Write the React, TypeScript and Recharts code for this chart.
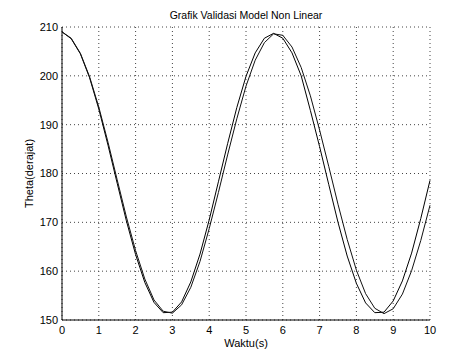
import React from 'react';
import {
  CartesianGrid,
  Line,
  LineChart,
  XAxis,
  YAxis,
} from 'recharts';

// time samples (s)
const waktu = [
  0, 0.25, 0.5, 0.75, 1, 1.25, 1.5, 1.75, 2, 2.25, 2.5, 2.75, 3, 3.25, 3.5,
  3.75, 4, 4.25, 4.5, 4.75, 5, 5.25, 5.5, 5.75, 6, 6.25, 6.5, 6.75, 7, 7.25,
  7.5, 7.75, 8, 8.25, 8.5, 8.75, 9, 9.25, 9.5, 9.75, 10,
];

// non linear model response (deg)
const thetaModel = [
  209.0, 207.6, 204.5, 199.6, 193.2, 185.8, 178.0, 170.3, 163.4, 157.7, 153.6,
  151.5, 151.6, 153.7, 157.8, 163.5, 170.5, 178.3, 186.1, 193.5, 199.9, 204.7,
  207.7, 208.7, 207.7, 204.7, 200.0, 192.9, 185.5, 177.7, 170.0, 163.1, 157.5,
  153.5, 151.5, 151.6, 153.9, 158.0, 163.7, 170.8, 178.6,
];

// validation response (deg)
const thetaValidasi = [
  209.0, 207.7, 204.6, 199.8, 193.6, 186.4, 178.7, 171.1, 164.2, 158.4, 154.1,
  151.8, 151.4, 153.1, 156.7, 162.0, 168.7, 176.1, 183.8, 191.2, 197.9, 203.2,
  206.8, 208.6, 208.3, 205.9, 201.7, 195.9, 188.9, 181.4, 173.7, 166.5, 160.2,
  155.4, 152.4, 151.3, 152.3, 155.3, 160.1, 166.3, 173.5,
];

const xTicks = [0, 1, 2, 3, 4, 5, 6, 7, 8, 9, 10];
const yTicks = [150, 160, 170, 180, 190, 200, 210];

const data = waktu.map((t, i) => ({
  t,
  model: thetaModel[i],
  validasi: thetaValidasi[i],
}));

const font = 'Liberation Sans, Arial, sans-serif';
const tickStyle = { fontSize: 11, fill: '#000', fontFamily: font };

const App = () => {
  return (
    <div style={{ position: 'absolute', left: 0, top: 0, width: 474, height: 355, background: '#fff' }}>
      <div
        style={{
          position: 'absolute',
          top: 9,
          left: 62,
          width: 368,
          textAlign: 'center',
          fontFamily: font,
          fontSize: 10.5,
          lineHeight: '12px',
          color: '#000',
        }}
      >
        Grafik Validasi Model Non Linear
      </div>
      <LineChart
        width={474}
        height={355}
        data={data}
        margin={{ top: 27, right: 44, left: 0, bottom: 0 }}
      >
        <CartesianGrid
          stroke="#444"
          strokeDasharray="1 3"
          horizontalValues={yTicks}
          verticalValues={xTicks}
        />
        <XAxis
          dataKey="t"
          type="number"
          domain={[0, 10]}
          ticks={xTicks}
          height={35}
          tickLine={false}
          tickSize={3}
          tickMargin={3}
          axisLine={{ stroke: '#000' }}
          tick={tickStyle}
          label={{ value: 'Waktu(s)', position: 'insideBottom', offset: 8, style: { fontSize: 11, fill: '#000', fontFamily: font } }}
        />
        <XAxis
          xAxisId="top"
          orientation="top"
          type="number"
          domain={[0, 10]}
          ticks={xTicks}
          height={0}
          mirror
          tick={false}
          tickSize={4}
          tickLine={{ stroke: '#000' }}
          axisLine={{ stroke: '#000' }}
        />
        <YAxis
          type="number"
          domain={[150, 210]}
          ticks={yTicks}
          width={62}
          tickLine={false}
          tickSize={3}
          tickMargin={1}
          axisLine={{ stroke: '#000' }}
          tick={tickStyle}
          label={{ value: 'Theta(derajat)', angle: -90, position: 'insideLeft', offset: 29, style: { fontSize: 11, fill: '#000', fontFamily: font, textAnchor: 'middle' } }}
        />
        <YAxis
          yAxisId="right"
          orientation="right"
          type="number"
          domain={[150, 210]}
          ticks={yTicks}
          width={0}
          mirror
          tick={false}
          tickSize={4}
          tickLine={{ stroke: '#000' }}
          axisLine={{ stroke: '#000' }}
        />
        <Line
          type="linear"
          dataKey="model"
          stroke="#000"
          strokeWidth={1}
          dot={false}
          isAnimationActive={false}
        />
        <Line
          type="linear"
          dataKey="validasi"
          stroke="#111"
          strokeWidth={1}
          dot={false}
          isAnimationActive={false}
        />
      </LineChart>
    </div>
  );
};

export default App;
